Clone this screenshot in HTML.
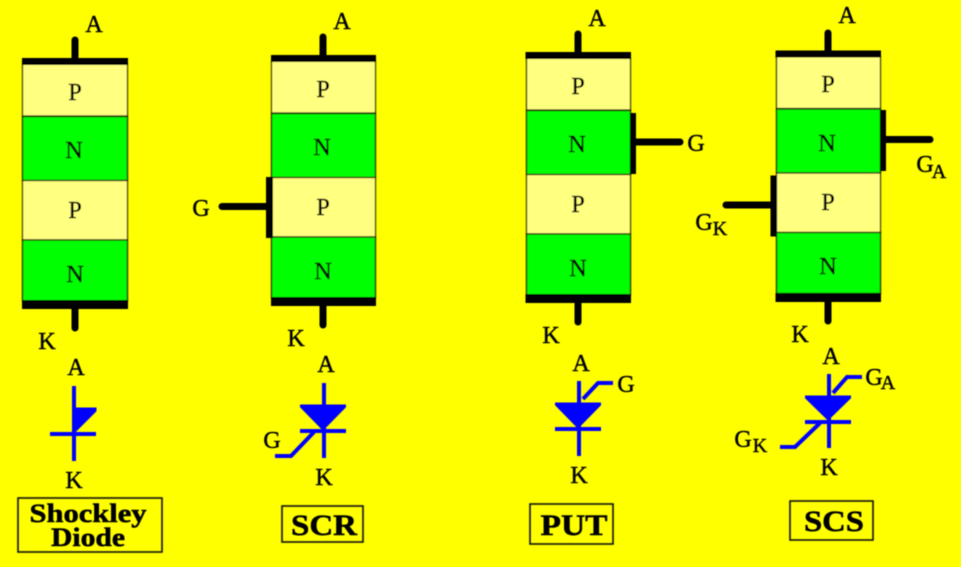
<!DOCTYPE html>
<html>
<head>
<meta charset="utf-8">
<style>
html,body{margin:0;padding:0;background:#ff0}
svg{display:block}
text{font-family:"Liberation Serif",serif;font-size:24px;fill:#000;stroke:#000;stroke-width:.45;text-anchor:middle}
.b{font-weight:bold;stroke-width:.5}
.l{fill:#ffff80;stroke:#2a2a10;stroke-width:1.3}
.g{fill:#0f0;stroke:#1a1a00;stroke-width:1.3}
.blk{fill:#000}
.lead{stroke:#000;stroke-width:7;stroke-linecap:round;fill:none}
.sym{stroke:#00f;stroke-width:4;fill:none}
.tri{fill:#00f;stroke:#00f;stroke-width:1}
.box{fill:none;stroke:#111;stroke-width:1.6}
</style>
</head>
<body>
<svg width="961" height="567" viewBox="0 0 961 567" xmlns="http://www.w3.org/2000/svg">
<rect width="961" height="567" fill="#ff0"/>
<defs><filter id="s" x="-5%" y="-5%" width="110%" height="110%"><feGaussianBlur stdDeviation="0.4"/></filter></defs>
<g filter="url(#s)">

<!-- Shockley -->
<rect class="l" x="22.5" y="64" width="105" height="52"/>
<rect class="g" x="22.5" y="116.500" width="105" height="64"/>
<rect class="l" x="22.500" y="180.500" width="105" height="59.500"/>
<rect class="g" x="22.500" y="240" width="105" height="61"/>
<rect class="blk" x="22" y="58" width="106" height="7"/>
<rect class="blk" x="22" y="300" width="106" height="9"/>
<path class="lead" d="M75 40V60M75 307V328"/>
<text x="94" y="32">A</text><text x="75" y="100">P</text><text x="74" y="158">N</text><text x="75" y="218">P</text><text x="75" y="282">N</text><text x="47" y="349">K</text>
<text x="76" y="375">A</text><text x="74" y="488">K</text>
<path class="sym" d="M74 386V461M50 434H96"/>
<polygon class="tri" points="75,408 96,408 96,411 75,432"/>
<rect class="box" x="18" y="498" width="144" height="54"/>
<text class="b" x="88" y="522" style="font-size:26px" textLength="117" lengthAdjust="spacingAndGlyphs">Shockley</text>
<text class="b" x="88" y="546" style="font-size:26px" textLength="74" lengthAdjust="spacingAndGlyphs">Diode</text>

<!-- SCR -->
<rect class="l" x="271.500" y="61" width="104" height="52"/>
<rect class="g" x="271.500" y="113.500" width="104" height="64"/>
<rect class="l" x="271.500" y="177.500" width="104" height="59.500"/>
<rect class="g" x="271.500" y="237" width="104" height="61"/>
<rect class="blk" x="271" y="55" width="105" height="7"/>
<rect class="blk" x="271" y="297" width="105" height="9"/>
<rect class="blk" x="266" y="177" width="7" height="61"/>
<path class="lead" d="M323 37V57M323 304V325M222 206.500H268"/>
<text x="342" y="29">A</text><text x="323" y="97">P</text><text x="322" y="155">N</text><text x="323" y="215">P</text><text x="323" y="279">N</text><text x="296" y="346">K</text><text x="201" y="216">G</text>
<text x="326" y="372">A</text><text x="324" y="485">K</text><text x="272" y="448">G</text>
<path class="sym" d="M324 383V458M300 431H346M314 432L291 456H275"/>
<polygon class="tri" points="300.500,405 345.500,405 345.500,407 324,429 322,429 300.500,407"/>
<rect class="box" x="282" y="506" width="81" height="36"/>
<text class="b" x="324" y="535" style="font-size:30px" textLength="66" lengthAdjust="spacingAndGlyphs">SCR</text>

<!-- PUT -->
<rect class="l" x="526.500" y="58" width="104" height="52"/>
<rect class="g" x="526.500" y="110.500" width="104" height="64"/>
<rect class="l" x="526.500" y="174.500" width="104" height="59.500"/>
<rect class="g" x="526.500" y="234" width="104" height="61"/>
<rect class="blk" x="525.500" y="52" width="105.500" height="7"/>
<rect class="blk" x="525.500" y="294" width="105.500" height="9"/>
<rect class="blk" x="630" y="113" width="6" height="61"/>
<path class="lead" d="M578 34V54M578 301V322M634 142H680"/>
<text x="597" y="26">A</text><text x="578" y="94">P</text><text x="577" y="152">N</text><text x="578" y="212">P</text><text x="578" y="276">N</text><text x="551" y="343">K</text><text x="696" y="151">G</text>
<text x="581" y="371">A</text><text x="579" y="483">K</text><text x="626" y="392">G</text>
<path class="sym" d="M579 381V456M555 429H601M583 399L598 383H613"/>
<polygon class="tri" points="555.500,403 600.500,403 600.500,405 579,427 577,427 555.500,405"/>
<rect class="box" x="530" y="504" width="83" height="40"/>
<text class="b" x="574" y="535" style="font-size:30px" textLength="67" lengthAdjust="spacingAndGlyphs">PUT</text>

<!-- SCS -->
<rect class="l" x="776.500" y="56.500" width="104" height="52"/>
<rect class="g" x="776.500" y="109" width="104" height="64"/>
<rect class="l" x="776.500" y="173" width="104" height="59.500"/>
<rect class="g" x="776.500" y="232.500" width="104" height="61"/>
<rect class="blk" x="775.500" y="50.500" width="105.500" height="7"/>
<rect class="blk" x="775.500" y="293" width="105.500" height="9"/>
<rect class="blk" x="880" y="110" width="6" height="61"/>
<rect class="blk" x="770.500" y="175.500" width="6" height="61"/>
<path class="lead" d="M828 33V52M828 300V321M884 139.500H930M726 205H772"/>
<text x="847" y="23">A</text><text x="828" y="92">P</text><text x="827" y="151">N</text><text x="828" y="210">P</text><text x="828" y="274">N</text><text x="800" y="342">K</text>
<text x="925" y="172">G</text><text x="939" y="178" style="font-size:20px">A</text>
<text x="704" y="230">G</text><text x="720" y="235" style="font-size:20px">K</text>
<text x="831" y="364">A</text><text x="829" y="475">K</text>
<text x="874" y="385">G</text><text x="888" y="389" style="font-size:20px">A</text>
<text x="743" y="447">G</text><text x="760" y="452" style="font-size:20px">K</text>
<path class="sym" d="M829 374V448M805 422H851M833 393L847 377H862M820 423L795 447H780"/>
<polygon class="tri" points="805.500,396 850.500,396 850.500,398 829,419 827,419 805.500,398"/>
<rect class="box" x="790" y="501" width="83" height="39"/>
<text class="b" x="834" y="531" style="font-size:30px" textLength="60" lengthAdjust="spacingAndGlyphs">SCS</text>
</g>
</svg>
</body>
</html>
